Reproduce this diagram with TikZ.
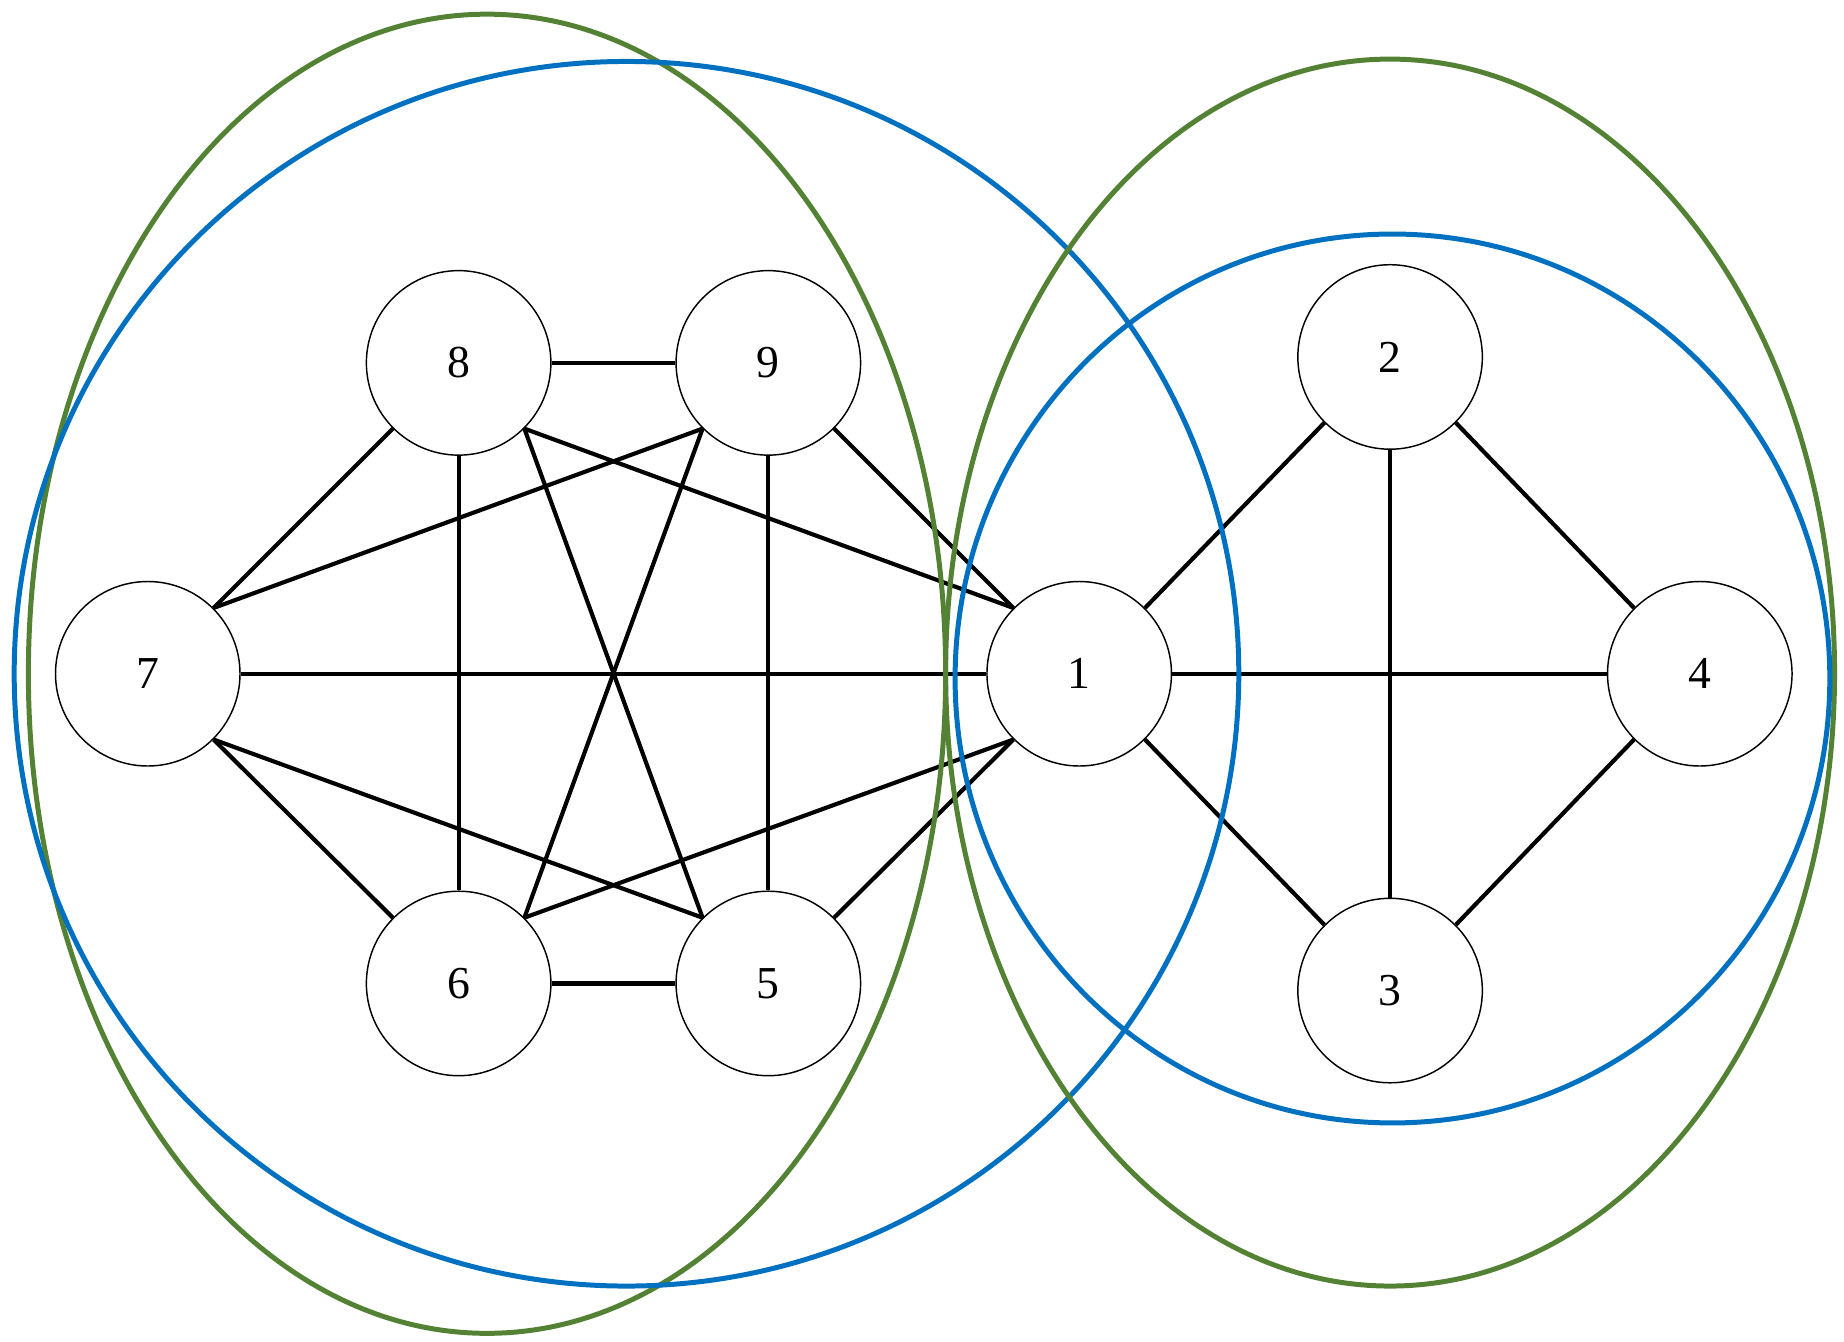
\documentclass[tikz,border=0pt]{standalone}
\usepackage{fontspec}
\setmainfont{Liberation Serif}
\begin{document}
\begin{tikzpicture}[x=0.01cm,y=-0.01cm,
  vert/.style={circle,draw,line width=0.35pt,fill=white,minimum size=1.56cm,inner sep=0pt,font=\fontsize{11}{13}\selectfont},
  edge/.style={line width=1pt},
  grp/.style={line width=1.2pt}]
\definecolor{gblue}{RGB}{0,112,192}
\definecolor{ggreen}{RGB}{84,130,53}
\useasboundingbox (0,0) rectangle (1560,1134.5);
\node[vert] (8) at (388,307) {8};
\node[vert] (9) at (650,307) {9};
\node[vert] (7) at (125,570) {7};
\node[vert] (1) at (913,570) {1};
\node[vert] (6) at (388,832) {6};
\node[vert] (5) at (650,832) {5};
\node[vert] (2) at (1176,302) {2};
\node[vert] (4) at (1438,570) {4};
\node[vert] (3) at (1176,838) {3};
\foreach \a/\b in {8/9,8/6,9/5,7/1,6/5,1/4,2/3,
  7.north east/8.south west, 7.north east/9.south west,
  7.south east/6.north west, 7.south east/5.north west,
  8.south east/1.north west, 8.south east/5.north west,
  9.south west/6.north east, 9.south east/1.north west,
  6.north east/1.south west, 5.north east/1.south west,
  1.north east/2.south west, 1.south east/3.north west,
  2.south east/4.north west, 3.north east/4.south west}
  \draw[edge] (\a) -- (\b);
\draw[grp,ggreen] (412,570) ellipse [x radius=388,y radius=558];
\draw[grp,gblue] (530,570) ellipse [x radius=518,y radius=518];
\draw[grp,ggreen] (1176,569) ellipse [x radius=376,y radius=519];
\draw[grp,gblue] (1178,574) ellipse [x radius=370,y radius=376];
\end{tikzpicture}
\end{document}
